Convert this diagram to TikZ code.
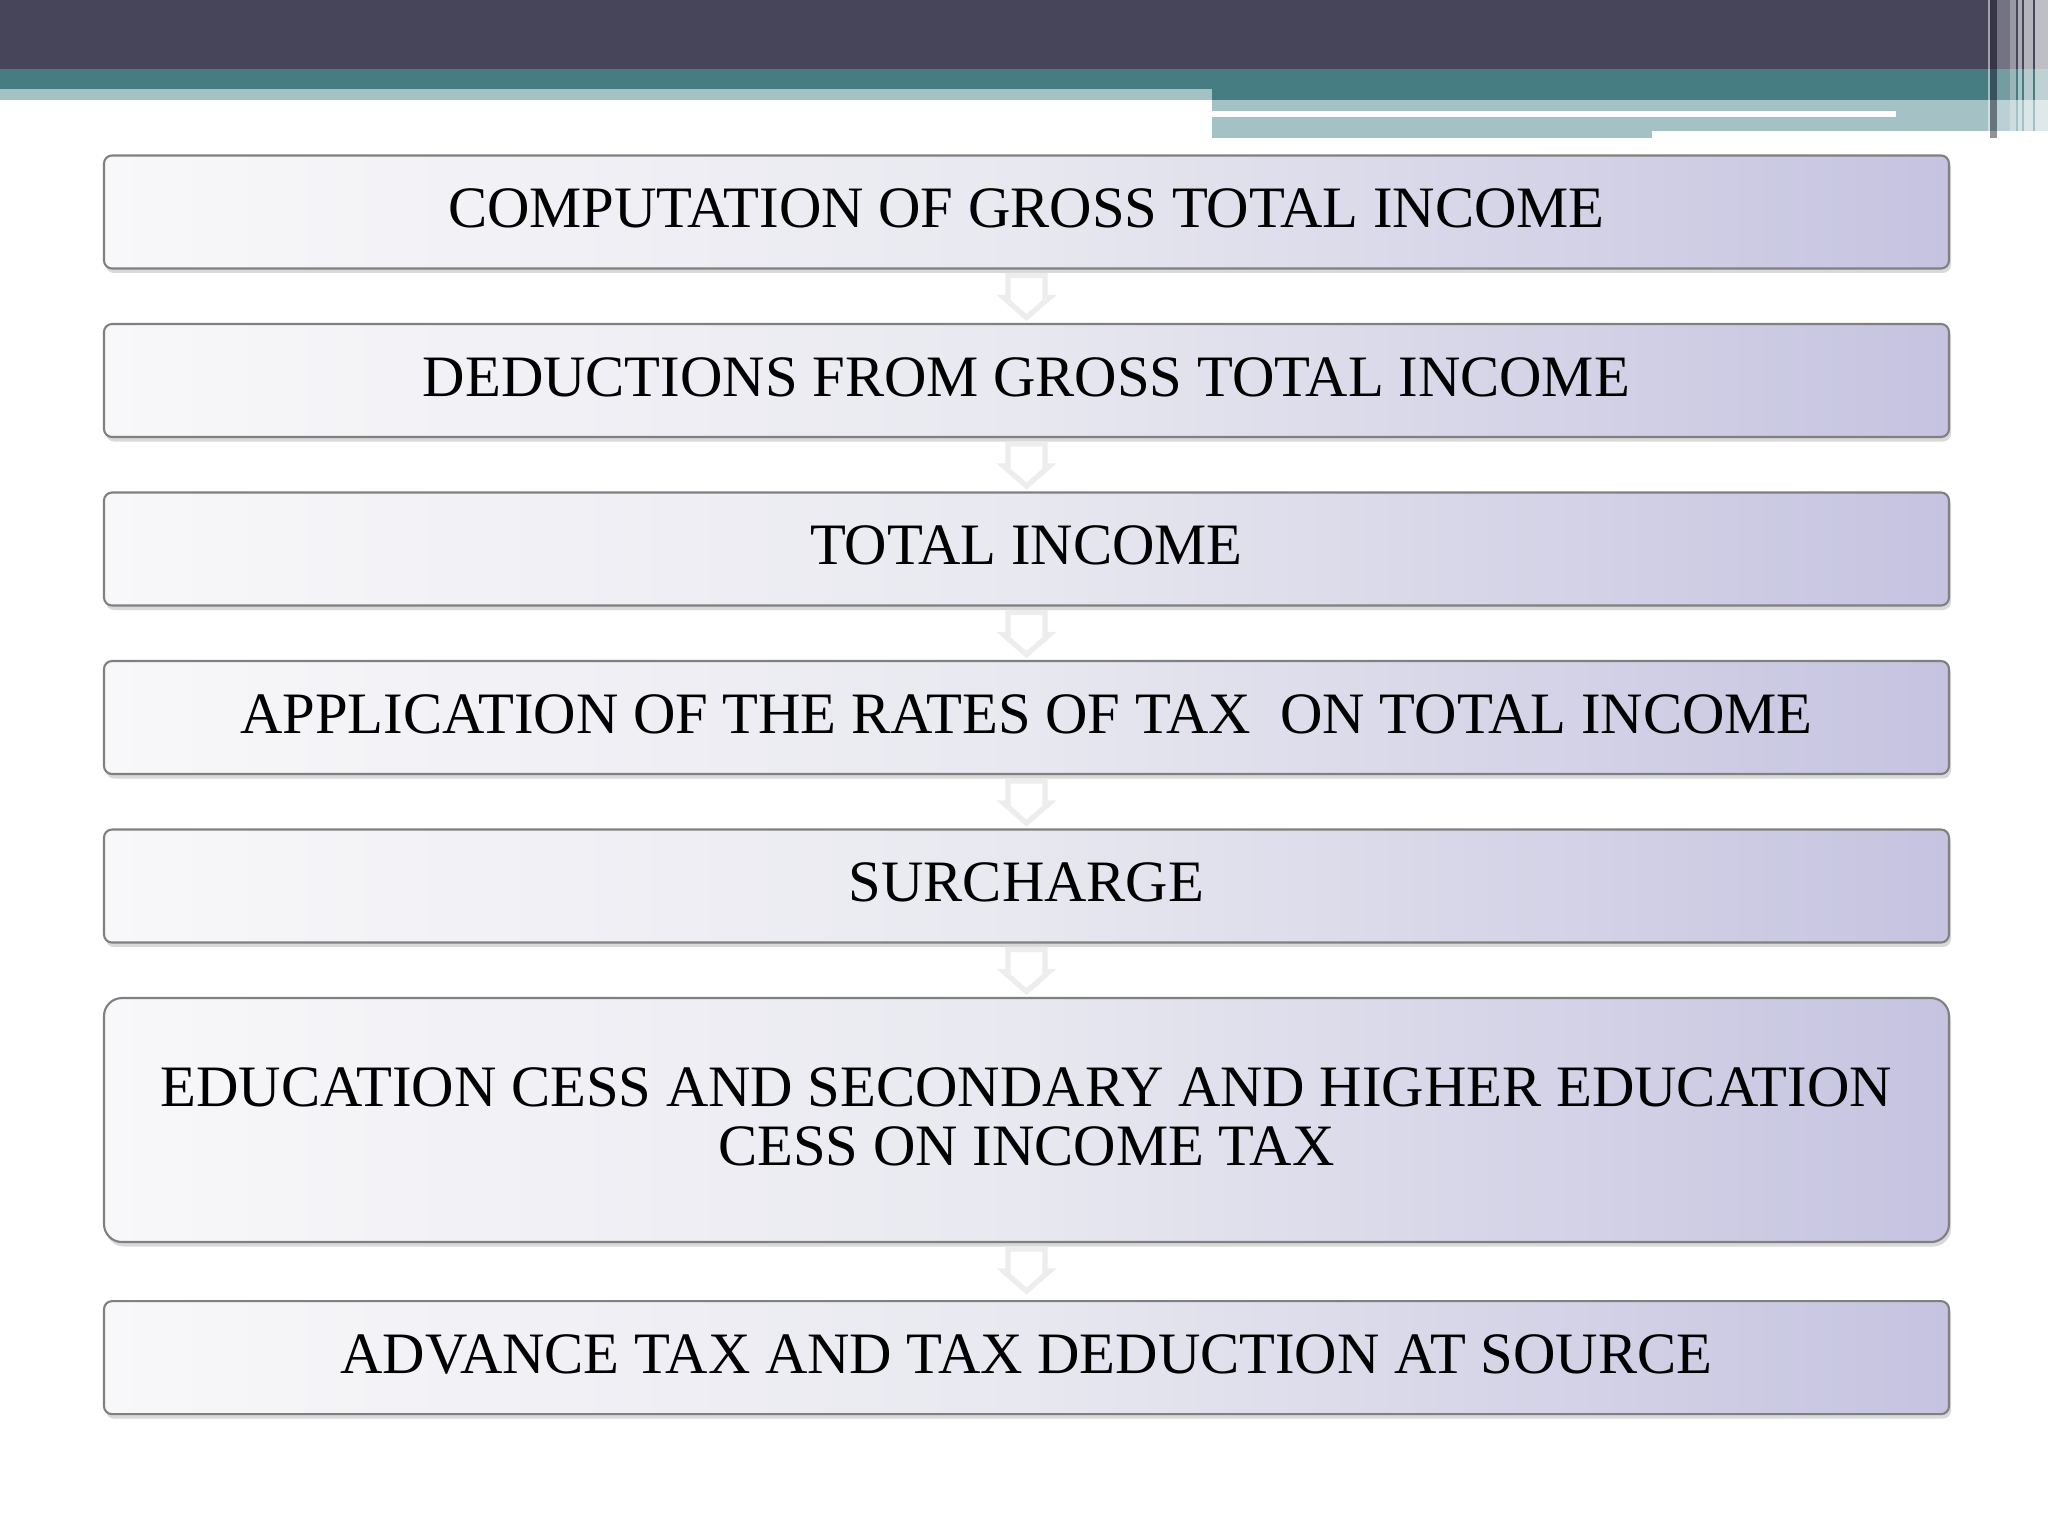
\documentclass[tikz,border=0pt]{standalone}
\usepackage{fontspec}
\setmainfont{Liberation Serif}
\usetikzlibrary{positioning,shadows}
\definecolor{hdrdark}{HTML}{46455A}
\definecolor{hdrteal}{HTML}{467D83}
\definecolor{hdrlight}{HTML}{A4C1C6}
\definecolor{boxleft}{HTML}{F8F8FA}
\definecolor{boxmid}{HTML}{E8E8F0}
\definecolor{boxright}{HTML}{C5C3E0}

\begin{document}
\begin{tikzpicture}[node distance=0.534cm,
  box/.style={draw=black!50, line width=0.6pt, rounded corners=0.08cm,
    minimum width=18.45cm, minimum height=1.13cm, inner sep=0pt, text depth=0.07cm,
    left color=boxleft, right color=boxright, middle color=boxmid,
    drop shadow={shadow xshift=0.02cm, shadow yshift=-0.045cm, opacity=0.3},
    align=center, font=\fontsize{16.7}{17}\selectfont},
  flowarrow/.style={fill=white, draw=black!7, line width=1.5pt,
    drop shadow={shadow xshift=0cm, shadow yshift=-0.03cm, opacity=0.12},
    to path={(\tikztostart.south) ++(-0.185,-0.06) -- ++(0.37,0) -- ++(0,-0.22)
      -- ++(0.045,0) -- ++(-0.23,-0.2) -- ++(-0.23,0.2) -- ++(0.045,0) -- cycle}}]
\useasboundingbox (0,0) rectangle (20.48,-15.36);
% header bands
\fill[hdrdark] (0,0) rectangle (20.48,-0.69);
\fill[hdrteal] (0,-0.69) rectangle (12.12,-0.89);
\fill[hdrteal] (12.12,-0.69) rectangle (20.48,-1.00);
\fill[hdrlight] (0,-0.89) rectangle (12.12,-1.00);
\fill[hdrlight] (12.12,-1.00) rectangle (20.48,-1.38);
\fill[white] (12.12,-1.11) rectangle (18.96,-1.17);
\fill[white] (16.52,-1.31) rectangle (20.48,-1.38);
% stripes on the right
\fill[white,opacity=0.5] (19.88,0) rectangle (19.90,-1.38);
\fill[black!40!hdrdark,opacity=0.5] (19.90,0) rectangle (19.97,-1.38);
\fill[white,opacity=0.25] (19.97,0) rectangle (20.10,-1.38);
\fill[white,opacity=0.45] (20.10,0) rectangle (20.16,-1.38);
\fill[white,opacity=0.55] (20.18,0) rectangle (20.22,-1.38);
\fill[white,opacity=0.6] (20.24,0) rectangle (20.33,-1.38);
\fill[white,opacity=0.65] (20.35,0) rectangle (20.48,-1.38);

\node[box] (1) at (10.265,-2.12) {COMPUTATION OF GROSS TOTAL INCOME};
\node[box] (2) [below =of 1] {DEDUCTIONS FROM GROSS TOTAL INCOME};
\node[box] (3) [below =of 2] {TOTAL INCOME};
\node[box] (4) [below =of 3] {APPLICATION OF THE RATES OF TAX\ \ ON TOTAL INCOME};
\node[box] (5) [below =of 4] {SURCHARGE};
\node[box, minimum height=2.44cm, rounded corners=0.18cm] (6) [below =of 5]
  {EDUCATION CESS AND SECONDARY AND HIGHER EDUCATION\\CESS ON INCOME TAX};
\node[box] (7) [below =0.57cm of 6] {ADVANCE TAX AND TAX DEDUCTION AT SOURCE};

\path (1) edge [flowarrow] (2)
      (2) edge [flowarrow] (3)
      (3) edge [flowarrow] (4)
      (4) edge [flowarrow] (5)
      (5) edge [flowarrow] (6)
      (6) edge [flowarrow] (7);
\end{tikzpicture}
\end{document}
